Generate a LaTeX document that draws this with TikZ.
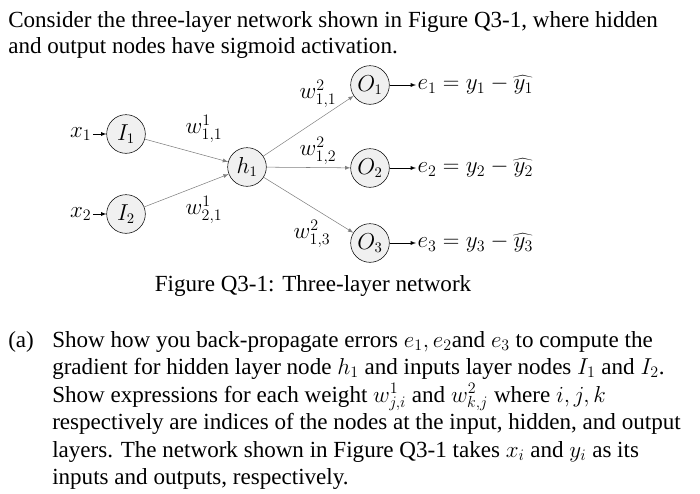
\documentclass[tikz,border=0pt]{standalone}
\usepackage{fontspec}
\setmainfont{Liberation Serif}
\usetikzlibrary{positioning}
\begin{document}
\begin{tikzpicture}[x=0.75pt,y=-0.75pt,
    main/.style = {draw, circle, fill=gray!12, minimum size=29pt, inner sep=0pt, font=\fontsize{16}{16}\selectfont},
    wire/.style = {draw=gray, -latex},
    txt/.style = {anchor=base west, inner sep=0pt, font=\fontsize{17.3}{17.3}\selectfont},
    lab/.style = {font=\fontsize{18}{18}\selectfont, inner sep=1pt}]
    \useasboundingbox (0,0) rectangle (700,493);
    % question text
    \node[txt] (t1) at (8,27) {Consider the three-layer network shown in Figure Q3-1, where hidden};
    \node[txt] (t2) at (8,53) {and output nodes have sigmoid activation.};
    % network
    \node[main] (I1) at (126,134) {$I_1$};
    \node[main] (I2) at (126,214) {$I_2$};
    \node[main] (h1) at (247,167) {$h_1$};
    \node[main] (O1) at (370,85) {$O_1$};
    \node[main] (O2) at (370,168) {$O_2$};
    \node[main] (O3) at (370,243) {$O_3$};
    \node[lab] (x1) [left=10pt of I1] {$x_1$};
    \node[lab] (x2) [left=10pt of I2] {$x_2$};
    \node[lab, anchor=west] (e1) at (416,85) {$e_1 = y_1 - \widehat{y_1}$};
    \node[lab, anchor=west] (e2) at (416,168) {$e_2 = y_2 - \widehat{y_2}$};
    \node[lab, anchor=west] (e3) at (416,243) {$e_3 = y_3 - \widehat{y_3}$};
    \draw[-latex] (x1) -- (I1);
    \draw[-latex] (x2) -- (I2);
    \draw[-latex] (O1) -- (e1);
    \draw[-latex] (O2) -- (e2);
    \draw[-latex] (O3) -- (e3);
    \draw[wire] (I1) -- (h1);
    \draw[wire] (I2) -- (h1);
    \draw[wire] (h1) -- (O1);
    \draw[wire] (h1) -- (O2);
    \draw[wire] (h1) -- (O3);
    \node[lab] (w11) at (204,129) {$w^1_{1,1}$};
    \node[lab] (w21) at (204,210) {$w^1_{2,1}$};
    \node[lab] (v11) at (318,94) {$w^2_{1,1}$};
    \node[lab] (v12) at (318,151) {$w^2_{1,2}$};
    \node[lab] (v13) at (312,234) {$w^2_{1,3}$};
    % caption
    \node[txt, anchor=base] (cap) at (313,291) {Figure Q3-1: Three-layer network};
    % part (a)
    \node[txt] (a) at (8,347) {(a)};
    \node[txt] (p1) at (52,347) {Show how you back-propagate errors $e_1, e_2$and $e_3$ to compute the};
    \node[txt] (p2) at (52,374) {gradient for hidden layer node $h_1$ and inputs layer nodes $I_1$ and $I_2$.};
    \node[txt] (p3) at (52,402) {Show expressions for each weight $w^1_{j,i}$ and $w^2_{k,j}$ where $i,j,k$};
    \node[txt] (p4) at (52,429) {respectively are indices of the nodes at the input, hidden, and output};
    \node[txt] (p5) at (52,457) {layers. The network shown in Figure Q3-1 takes $x_i$ and $y_i$ as its};
    \node[txt] (p6) at (52,484) {inputs and outputs, respectively.};
\end{tikzpicture}
\end{document}
